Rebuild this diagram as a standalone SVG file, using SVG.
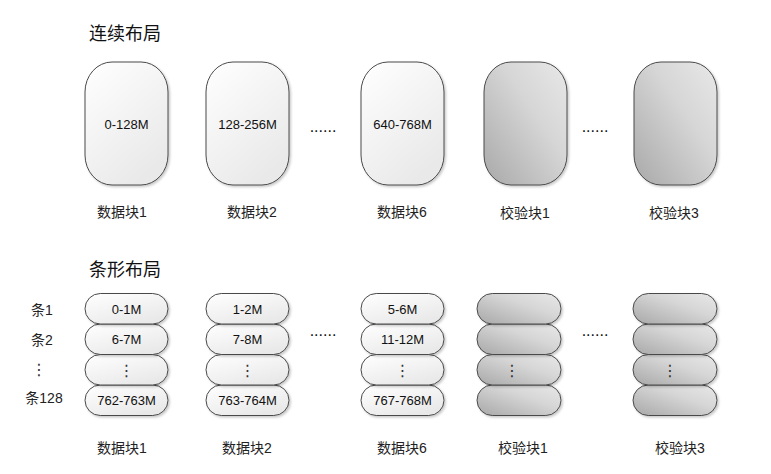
<svg xmlns="http://www.w3.org/2000/svg" width="771" height="474" viewBox="0 0 771 474">
<defs>
<linearGradient id="gw" x1="0" y1="0" x2="0.6" y2="1">
<stop offset="0" stop-color="#ffffff"/>
<stop offset="1" stop-color="#e9e9e9"/>
</linearGradient>
<linearGradient id="gp" x1="0" y1="1" x2="1" y2="0">
<stop offset="0" stop-color="#a8a8a8"/>
<stop offset="0.6" stop-color="#d6d6d6"/>
<stop offset="1" stop-color="#e8e8e8"/>
</linearGradient>
<filter id="sh" x="-10%" y="-10%" width="130%" height="130%">
<feDropShadow dx="1.5" dy="1.5" stdDeviation="0.8" flood-color="#000" flood-opacity="0.22"/>
</filter>
<style>
.w{fill:url(#gw);stroke:#4a4a4a;stroke-width:1;filter:url(#sh)}
.p{fill:url(#gp);stroke:#4a4a4a;stroke-width:1;filter:url(#sh)}
.t{font-family:"Liberation Sans","Noto Sans CJK SC",sans-serif;font-size:13px;fill:#111;text-anchor:middle}
.o{font-family:"Liberation Sans",sans-serif;font-size:16px;fill:#111;text-anchor:middle}
.c{font-family:"Liberation Sans","Noto Sans CJK SC",sans-serif;font-size:14px;fill:#222;text-anchor:middle}
.h{font-family:"Liberation Sans","Noto Sans CJK SC",sans-serif;font-size:18px;fill:#111}
.d{font-family:"DejaVu Sans",sans-serif;font-size:16px;fill:#333;text-anchor:middle}
</style>
</defs>

<g id="title-contiguous"><text class="h" x="89" y="40">连续布局</text></g>

<g id="c-data1"><rect class="w" x="85" y="62" width="83" height="123" rx="27" ry="30"/><text class="t" x="126.5" y="129">0-128M</text><text class="c" x="122" y="217">数据块1</text></g>
<g id="c-data2"><rect class="w" x="206" y="62" width="83" height="123" rx="27" ry="30"/><text class="t" x="247.5" y="129">128-256M</text><text class="c" x="252" y="217">数据块2</text></g>
<g id="c-dots1"><text class="o" x="323" y="132">......</text></g>
<g id="c-data6"><rect class="w" x="361" y="62" width="83" height="123" rx="27" ry="30"/><text class="t" x="402.5" y="129">640-768M</text><text class="c" x="402" y="217">数据块6</text></g>
<g id="c-par1"><rect class="p" x="484" y="62" width="83" height="123" rx="27" ry="30"/><text class="c" x="525" y="218">校验块1</text></g>
<g id="c-dots2"><text class="o" x="595" y="132">......</text></g>
<g id="c-par3"><rect class="p" x="634" y="62" width="83" height="123" rx="27" ry="30"/><text class="c" x="674" y="218">校验块3</text></g>

<g id="title-striped"><text class="h" x="89" y="276">条形布局</text></g>

<g id="row-labels">
<text class="c" x="42" y="315">条1</text>
<text class="c" x="42" y="345">条2</text>
<text class="d" x="39" y="375">⋮</text>
<text class="c" x="44" y="403">条128</text>
</g>

<g id="s-data1">
<rect class="w" x="85" y="385" width="83" height="30.5" rx="15.25"/>
<rect class="w" x="85" y="354.5" width="83" height="30.5" rx="15.25"/>
<rect class="w" x="85" y="324" width="83" height="30.5" rx="15.25"/>
<rect class="w" x="85" y="293.5" width="83" height="30.5" rx="15.25"/>
<text class="t" x="126.5" y="314">0-1M</text>
<text class="t" x="126.5" y="344">6-7M</text>
<text class="d" x="126.5" y="376">⋮</text>
<text class="t" x="126.5" y="405">762-763M</text>
<text class="c" x="122" y="453">数据块1</text>
</g>
<g id="s-data2">
<rect class="w" x="206" y="385" width="83" height="30.5" rx="15.25"/>
<rect class="w" x="206" y="354.5" width="83" height="30.5" rx="15.25"/>
<rect class="w" x="206" y="324" width="83" height="30.5" rx="15.25"/>
<rect class="w" x="206" y="293.5" width="83" height="30.5" rx="15.25"/>
<text class="t" x="247.5" y="314">1-2M</text>
<text class="t" x="247.5" y="344">7-8M</text>
<text class="d" x="247.5" y="376">⋮</text>
<text class="t" x="247.5" y="405">763-764M</text>
<text class="c" x="247" y="453">数据块2</text>
</g>
<g id="s-dots1"><text class="o" x="323" y="336">......</text></g>
<g id="s-data6">
<rect class="w" x="361" y="385" width="83" height="30.5" rx="15.25"/>
<rect class="w" x="361" y="354.5" width="83" height="30.5" rx="15.25"/>
<rect class="w" x="361" y="324" width="83" height="30.5" rx="15.25"/>
<rect class="w" x="361" y="293.5" width="83" height="30.5" rx="15.25"/>
<text class="t" x="402.5" y="314">5-6M</text>
<text class="t" x="402.5" y="344">11-12M</text>
<text class="d" x="402.5" y="376">⋮</text>
<text class="t" x="402.5" y="405">767-768M</text>
<text class="c" x="402" y="453">数据块6</text>
</g>
<g id="s-par1">
<rect class="p" x="477" y="385" width="84" height="30.5" rx="15.25"/>
<rect class="p" x="477" y="354.5" width="84" height="30.5" rx="15.25"/>
<rect class="p" x="477" y="324" width="84" height="30.5" rx="15.25"/>
<rect class="p" x="477" y="293.5" width="84" height="30.5" rx="15.25"/>
<text class="d" x="512" y="376">⋮</text>
<text class="c" x="523" y="453">校验块1</text>
</g>
<g id="s-dots2"><text class="o" x="595" y="336">......</text></g>
<g id="s-par3">
<rect class="p" x="633" y="385" width="84" height="30.5" rx="15.25"/>
<rect class="p" x="633" y="354.5" width="84" height="30.5" rx="15.25"/>
<rect class="p" x="633" y="324" width="84" height="30.5" rx="15.25"/>
<rect class="p" x="633" y="293.5" width="84" height="30.5" rx="15.25"/>
<text class="d" x="670" y="376">⋮</text>
<text class="c" x="680" y="453">校验块3</text>
</g>
<g id="connectors"/>
</svg>
